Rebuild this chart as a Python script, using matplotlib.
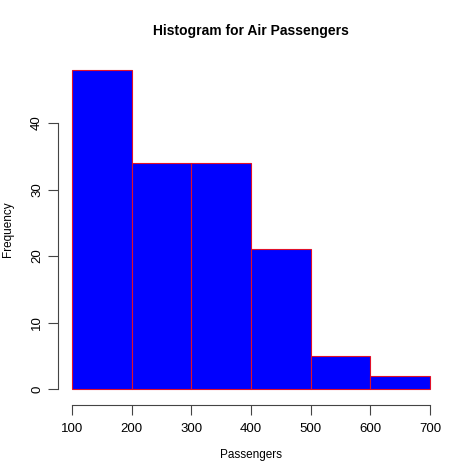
import matplotlib
matplotlib.use("Agg")
import matplotlib.pyplot as plt

plt.rcParams['font.family'] = ['Liberation Sans', 'DejaVu Sans']

bin_edges = [100, 200, 300, 400, 500, 600, 700]
counts = [48, 34, 34, 21, 5, 2]
x_ticks = [100, 200, 300, 400, 500, 600, 700]
y_ticks = [0, 10, 20, 30, 40]

fig = plt.figure(figsize=(4.74, 4.74), dpi=100)
ax = fig.add_axes([0.1217, 0.1519, 0.8156, 0.728])

lefts = bin_edges[:-1]
widths = [b - a for a, b in zip(bin_edges[:-1], bin_edges[1:])]
ax.bar(lefts, counts, width=widths, align='edge', color='#0000ff',
       edgecolor='#e0102a', linewidth=0.8)

ax.set_xlim(76, 724)
ax.set_ylim(-1.92, 49.92)

for s in ['top', 'right']:
    ax.spines[s].set_visible(False)
ax.spines['left'].set_position(('outward', 0))
ax.spines['bottom'].set_position(('outward', 2))
ax.spines['left'].set_bounds(0, 40)
ax.spines['bottom'].set_bounds(100, 700)
ax.spines['left'].set_color('#444444')
ax.spines['bottom'].set_color('#444444')

ax.set_xticks(x_ticks)
ax.set_yticks(y_ticks)
ax.tick_params(direction='out', length=7, width=0.8, color='#444444', labelsize=9.5)
ax.tick_params(axis='x', pad=6)
ax.set_yticklabels([str(v) for v in y_ticks], rotation=90, va='center')

ax.set_title("Histogram for Air Passengers", fontsize=10, fontweight='bold', pad=16)
ax.set_xlabel("Passengers", fontsize=8.5, labelpad=10)
ax.set_ylabel("Frequency", fontsize=8.5, labelpad=12)

fig.savefig("out.png", dpi=100)
